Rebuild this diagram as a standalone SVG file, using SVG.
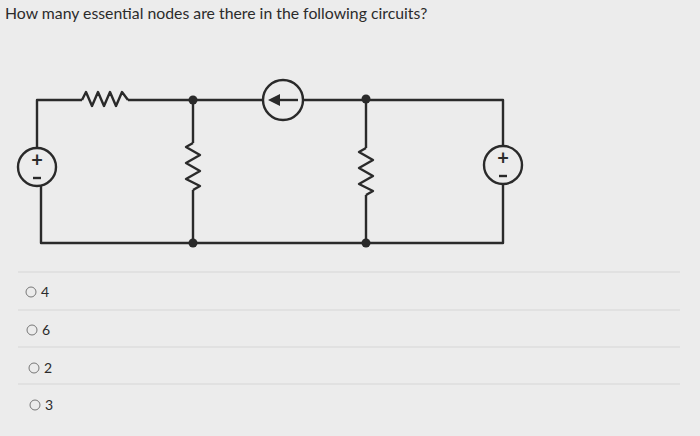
<svg xmlns="http://www.w3.org/2000/svg" width="700" height="436" viewBox="0 0 700 436">
<style>
.w{fill:none;stroke:#2a2a2a;stroke-width:2.4;stroke-linejoin:round}
.d{fill:#2a2a2a}
.t{font-family:Lato,"Liberation Sans",sans-serif;fill:#2b2b2b}
.sep{stroke:#d6d6d6;stroke-width:1.2}
.rad{fill:none;stroke:#777;stroke-width:1}
</style>
<rect width="700" height="436" fill="#ececec"/>
<text class="t" x="5" y="19" font-size="15.8">How many essential nodes are there in the following circuits?</text>
<g id="wires">
<path class="w" d="M37,148 V100 H82 M128,100 H262 M304,100 H503 V146 M503,184 V243 H41 V186"/>
<path class="w" d="M193,100 V143 M193,190 V243 M366,100 V148 M366,195 V243"/>
</g>
<g id="R1"><path class="w" d="M82,100 L86,92 L92,106 L98,92 L104,106 L110,92 L116,106 L122,92 L128,100"/></g>
<g id="R2"><path class="w" d="M193,143 L186,147 L200,155 L186,163 L200,171 L186,179 L200,186 L193,190"/></g>
<g id="R3"><path class="w" d="M366,148 L359,152 L373,160 L359,168 L373,176 L359,184 L373,191 L366,195"/></g>
<g id="Is"><circle class="w" cx="283" cy="100" r="20"/><path class="w" d="M298,100 H276"/><path class="d" d="M268,100 L280,94 L280,106Z"/></g>
<g id="V1"><circle class="w" cx="37" cy="167" r="19"/><text class="t" x="37" y="167" font-size="20" text-anchor="middle" font-weight="bold">+</text><path class="w" d="M33,178 H41"/></g>
<g id="V2"><circle class="w" cx="503" cy="165" r="19"/><text class="t" x="503" y="165" font-size="20" text-anchor="middle" font-weight="bold">+</text><path class="w" d="M499,176 H507"/></g>
<g id="nodes">
<circle class="d" cx="193" cy="100" r="4.5"/><circle class="d" cx="366" cy="99" r="4.5"/>
<circle class="d" cx="193" cy="243" r="4.5"/><circle class="d" cx="366" cy="243" r="4.5"/>
</g>
<g id="options">
<line class="sep" x1="18" y1="272" x2="680" y2="272"/>
<line class="sep" x1="18" y1="310" x2="680" y2="310"/>
<line class="sep" x1="18" y1="347" x2="680" y2="347"/>
<line class="sep" x1="18" y1="384" x2="680" y2="384"/>
<circle class="rad" cx="31" cy="292" r="5"/><text class="t" x="41" y="297" font-size="14">4</text>
<circle class="rad" cx="32" cy="330" r="5"/><text class="t" x="42" y="335" font-size="14">6</text>
<circle class="rad" cx="34" cy="368" r="5"/><text class="t" x="44" y="373" font-size="14">2</text>
<circle class="rad" cx="35" cy="405" r="5"/><text class="t" x="45" y="410" font-size="14">3</text>
</g>
</svg>
